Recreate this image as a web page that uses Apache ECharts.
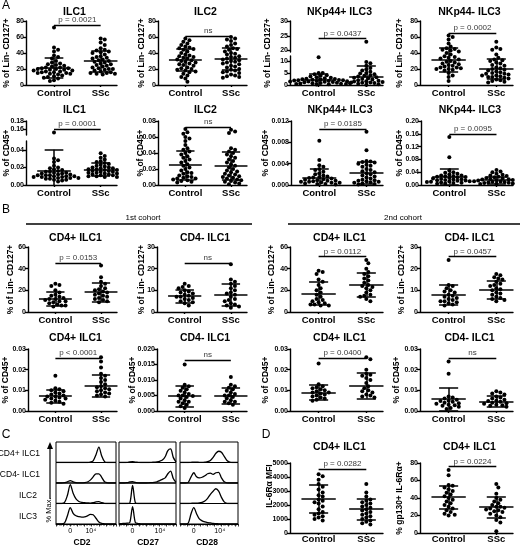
<!DOCTYPE html>
<html><head><meta charset="utf-8">
<script src="https://cdn.jsdelivr.net/npm/echarts@6/dist/echarts.min.js"></script>
<style>html,body{margin:0;padding:0;background:#fff}#c{width:520px;height:546px}</style>
</head><body><div id="c"></div>
<script>
// ---------------- DATA ----------------
const groups = ['Control', 'SSc'];
// Panel A, % of Lin- CD127+
const A_ILC1_lin_control = [72,47,44,42,37,35,33,30,28,27,26,25,24,23,22,22,21,21,20,20,19,19,18,18,17,17,16,16,15,15,14,14,13,12,11,10,9,8,6,5];
const A_ILC1_lin_ssc = [58,57,53,50,46,44,43,42,41,40,38,36,35,34,33,32,31,30,29,28,27,26,25,24,23,22,21,20,20,19,18,17,16,15,15,14,14,13];
const A_ILC1_lin_stats = [21,12.5,30,13];
const A_ILC2_lin_control = [58,56,54,52,50,48,47,46,45,44,42,40,38,37,36,35,34,33,32,31,30,29,28,27,26,25,24,22,21,20,19,18,17,16,14,12,10,8,4];
const A_ILC2_lin_ssc = [60,58,57,55,52,50,48,46,45,44,42,40,39,38,36,35,34,33,32,31,30,29,28,27,26,24,23,22,20,19,18,17,16,15,13,12,11,10,9];
const A_ILC2_lin_stats = [31.5,14,32.5,14];
const A_NKp44pos_lin_control = [11.5,5,5,4.5,4,3.8,3.5,3.2,3,2.8,2.6,2.5,2.4,2.3,2.2,2.1,2,2,1.9,1.8,1.7,1.6,1.5,1.4,1.3,1.2,1.1,1,0.9,0.8,0.7,0.6,0.5,0.4,0.3,0.2];
const A_NKp44pos_lin_ssc = [23,9.5,9,8,7,6.5,6,5.5,5,4.8,4.5,4,3.8,3.5,3.2,3,2.8,2.5,2.3,2,1.8,1.6,1.4,1.2,1,0.9,0.8,0.7,0.6,0.5,0.4,0.3,0.2,0.1];
const A_NKp44pos_lin_stats = [2.2,2.3,3.5,4.5];
const A_NKp44neg_lin_control = [62,60,57,52,48,46,45,44,43,42,40,38,36,35,34,33,32,30,29,28,27,26,25,24,23,22,22,21,20,20,19,18,15,12,10,5];
const A_NKp44neg_lin_ssc = [54,47,45,44,38,34,32,31,30,28,27,25,24,22,21,20,19,18,17,16,15,14,14,13,12,12,11,10,10,9,8,7,6,5,4,3];
const A_NKp44neg_lin_stats = [31.5,14.5,20,12.5];
// Panel A, % of CD45+
const A_ILC1_cd45_control = [0.151,0.03,0.028,0.026,0.022,0.02,0.019,0.018,0.017,0.016,0.015,0.015,0.014,0.014,0.013,0.013,0.012,0.012,0.011,0.011,0.011,0.01,0.01,0.01,0.009,0.009,0.009,0.008,0.008,0.008,0.007,0.007,0.006,0.006,0.005,0.004];
const A_ILC1_cd45_ssc = [0.036,0.033,0.031,0.029,0.027,0.026,0.025,0.024,0.023,0.022,0.021,0.02,0.02,0.019,0.019,0.018,0.018,0.017,0.017,0.016,0.016,0.015,0.015,0.014,0.014,0.013,0.013,0.012,0.012,0.011,0.011,0.01,0.01,0.009,0.009];
const A_ILC1_cd45_stats = [0.016,0.024,0.0175,0.0075];
const A_ILC2_cd45_control = [0.07,0.066,0.064,0.06,0.058,0.055,0.05,0.046,0.044,0.042,0.04,0.038,0.036,0.034,0.032,0.03,0.028,0.026,0.024,0.022,0.02,0.018,0.016,0.015,0.014,0.012,0.011,0.01,0.009,0.008,0.008,0.007,0.006,0.005,0.004,0.003];
const A_ILC2_cd45_ssc = [0.069,0.067,0.065,0.046,0.044,0.042,0.04,0.038,0.036,0.034,0.032,0.03,0.028,0.026,0.024,0.022,0.02,0.018,0.017,0.016,0.014,0.013,0.012,0.011,0.01,0.009,0.008,0.007,0.006,0.005,0.004,0.003,0.002,0.001];
const A_ILC2_cd45_stats = [0.025,0.018,0.024,0.018];
const A_NKp44pos_cd45_control = [0.0083,0.0047,0.0037,0.0034,0.003,0.0028,0.0025,0.0022,0.002,0.0018,0.0016,0.0015,0.0014,0.0013,0.0012,0.0011,0.001,0.0009,0.0008,0.0008,0.0007,0.0006,0.0006,0.0005,0.0004,0.0004,0.0003,0.0002,0.0002,0.0001];
const A_NKp44pos_cd45_ssc = [0.01,0.0065,0.0045,0.0044,0.0043,0.0042,0.004,0.0038,0.0036,0.0034,0.003,0.0028,0.0026,0.0024,0.0022,0.002,0.0018,0.0016,0.0014,0.0012,0.001,0.0009,0.0008,0.0007,0.0006,0.0005,0.0004,0.0003,0.0002,0.0001];
const A_NKp44pos_cd45_stats = [0.0013,0.0017,0.0023,0.002];
const A_NKp44neg_cd45_control = [0.15,0.087,0.045,0.04,0.038,0.035,0.033,0.03,0.03,0.028,0.027,0.026,0.025,0.024,0.022,0.02,0.019,0.018,0.017,0.016,0.015,0.014,0.013,0.012,0.011,0.01,0.009,0.008,0.007,0.006,0.005,0.004];
const A_NKp44neg_cd45_ssc = [0.047,0.042,0.04,0.035,0.032,0.03,0.028,0.026,0.024,0.022,0.02,0.019,0.018,0.017,0.016,0.015,0.014,0.013,0.012,0.011,0.01,0.009,0.008,0.007,0.006,0.005,0.004,0.003,0.002];
const A_NKp44neg_cd45_stats = [0.027,0.025,0.016,0.011];
// Panel B, 1st cohort
const B1_CD4pos_lin_control = [26,25,24,20,18,16,15,14,13,12,12,11,10,10,9,8,7,6,6,5];
const B1_CD4pos_lin_ssc = [43,32,28,26,24,22,21,20,19,18,17,16,15,14,13,12,11,10,9];
const B1_CD4pos_lin_stats = [12,6.5,18.5,8.7];
const B1_CD4neg_lin_control = [13,12,11.5,11,10,9.5,9,8.5,8,7.5,7,7,6.5,6,5.5,5,4.5,4,3];
const B1_CD4neg_lin_ssc = [22,15,14,13,12,11,10,9,8.5,8,7,6,5.5,5,4,3.5,3,2.5,2];
const B1_CD4neg_lin_stats = [7.3,2.8,8,5];
const B1_CD4pos_cd45_control = [0.017,0.011,0.0105,0.01,0.0095,0.009,0.0085,0.008,0.0075,0.007,0.007,0.0065,0.006,0.006,0.0055,0.005,0.0045,0.004,0.0035];
const B1_CD4pos_cd45_ssc = [0.026,0.024,0.021,0.018,0.017,0.016,0.015,0.014,0.013,0.012,0.0115,0.011,0.0105,0.01,0.0095,0.009,0.0085,0.008,0.0075,0.007];
const B1_CD4pos_cd45_stats = [0.0072,0.0032,0.0122,0.0052];
const B1_CD4neg_cd45_control = [0.015,0.0085,0.008,0.0075,0.007,0.0065,0.006,0.0055,0.005,0.005,0.0048,0.0045,0.004,0.0035,0.003,0.003,0.0025,0.002,0.0015,0.001];
const B1_CD4neg_cd45_ssc = [0.011,0.0085,0.008,0.0075,0.007,0.0065,0.006,0.0055,0.005,0.005,0.0045,0.004,0.0035,0.003,0.003,0.0025,0.002];
const B1_CD4neg_cd45_stats = [0.0048,0.0033,0.005,0.0025];
// Panel B, 2nd cohort
const B2_CD4pos_lin_control = [38,37,35,30,28,25,22,20,18,16,14,12,11,10,9,8,7,7,6,6];
const B2_CD4pos_lin_ssc = [48,45,40,37,35,33,31,29,27,25,24,23,22,20,18,16,15,14,12,10];
const B2_CD4pos_lin_stats = [17,10.5,25,10.8];
const B2_CD4neg_lin_control = [24,12.5,12,11,10,9.5,9,8,7.5,7,6.5,6,5.5,5,5,4.5,4,3.5,3];
const B2_CD4neg_lin_ssc = [17.5,17,16,15.5,15,14,13,12.5,12,11,10.5,10,9,8.5,8,7,6.5,6,5.5,5];
const B2_CD4neg_lin_stats = [8,4.5,10.3,4.2];
const B2_CD4pos_cd45_control = [0.023,0.013,0.012,0.0115,0.011,0.0105,0.01,0.0095,0.009,0.009,0.0085,0.008,0.0075,0.007,0.0065,0.006,0.0055,0.005];
const B2_CD4pos_cd45_ssc = [0.026,0.025,0.02,0.018,0.0175,0.017,0.016,0.015,0.0135,0.012,0.011,0.01,0.0095,0.009,0.008,0.0075,0.007,0.0065];
const B2_CD4pos_cd45_stats = [0.009,0.0037,0.0122,0.0062];
const B2_CD4neg_cd45_control = [0.024,0.018,0.007,0.0065,0.006,0.0055,0.005,0.0048,0.0045,0.004,0.0038,0.0035,0.003,0.0028,0.0025,0.002,0.0015,0.001];
const B2_CD4neg_cd45_ssc = [0.0095,0.009,0.0085,0.008,0.007,0.0065,0.006,0.0055,0.005,0.0048,0.0045,0.004,0.0038,0.0035,0.003,0.0028,0.0025,0.002];
const B2_CD4neg_cd45_stats = [0.0058,0.0055,0.0047,0.0025];
// Panel D
const D_MFI_control = [4200,4050,3800,3500,3300,3100,2900,2700,2600,2400,2300,2200,2100,1900,1700,1500,1400,1300,1200,1100,1000,900];
const D_MFI_ssc = [3500,2900,2600,2400,2300,2200,2100,2000,1900,1800,1700,1600,1500,1400,1300,1200,1100,1000,900,800,700,600];
const D_MFI_stats = [2420,1000,1700,740];
const D_gp130_control = [72,66,55,54,52,50,48,46,44,42,40,38,36,34,32,30,28,26,24,22,21,20];
const D_gp130_ssc = [56,52,45,40,38,36,34,32,30,30,29,28,27,26,25,24,22,20,18,15,12,2];
const D_gp130_stats = [41,13.5,30,12];
// tick label values
const ticks80 = [0,20,40,60,80], ticks60 = [0,20,40,60], ticks30 = [0,10,20,30];
const ticksNKlo = [0,5,10], ticksNKhi = [20,25,30];
const ticksCD45lo = [0,0.02,0.04], ticksCD45hi = [0.16,0.18];
const ticks008 = [0,0.02,0.04,0.06,0.08], ticks0012 = [0,0.004,0.008,0.012], ticks020 = [0,0.04,0.08,0.12,0.16,0.20];
const ticks003 = [0,0.01,0.02,0.03], ticks0020 = [0,0.005,0.010,0.015,0.020];
const ticksMFI = [0,1000,2000,3000,4000,5000];
// Panel C histograms (% Max.) at histX
const histX = [-1,-0.8,-0.6,-0.4,-0.2,0,0.2,0.4,0.6,0.8,1,1.2,1.4,1.6,1.8,2,2.2,2.4,2.6,2.8,3,3.2];
const hist_CD2 = [
  [0,0,0,0,0,0,0,0,0,0,0,0,2,8,38,75,32,4,0,0,0,0],
  [0,0,0,2,6,12,6,2,1,1,2,5,14,30,45,45,28,6,1,0,0,0],
  [0,0,0,5,40,92,50,22,10,5,4,3,2,4,8,9,4,1,0,0,0,0],
  [0,0,0,5,40,80,52,40,36,34,35,40,47,45,28,10,3,1,0,0,0,0]];
const hist_CD27 = [
  [0,0,0,1,3,4,2,1,0,0,0,0,1,2,3,6,12,28,58,66,25,3],
  [0,0,0,2,5,7,3,1,0,0,0,1,2,3,6,12,18,25,45,58,22,3],
  [0,0,0,0,3,88,5,0,0,0,0,0,0,0,0,0,0,0,0,0,0,0],
  [1,2,3,4,8,85,8,2,1,0,0,0,0,0,0,0,0,0,0,0,0,0]];
const hist_CD28 = [
  [0,0,0,0,1,2,2,1,1,2,4,10,25,45,55,50,30,10,2,0,0,0],
  [0,0,0,3,30,50,30,25,28,35,45,48,42,50,52,25,6,1,0,0,0,0],
  [0,0,0,0,1,2,2,3,6,12,25,45,60,72,60,30,8,1,0,0,0,0],
  [0,0,0,5,50,80,50,25,15,10,7,5,3,2,1,0,0,0,0,0,0,0]];
const histRows = ['CD4+ ILC1','CD4- ILC1','ILC2','ILC3'];
const histMarkers = ['CD2','CD27','CD28'];
const histTenFour = [1.44, 2.02, 1.88];

// ---------------- BUILD ----------------
const FONT = 'Liberation Sans';
const XMIN = -0.6, XMAX = 1.35;
const grids = [], xAxes = [], yAxes = [], series = [], graphics = [];

function txt(text, x, y, size, weight, align, rot) {
  graphics.push({type:'text', x:x, y:y, rotation: rot || 0, silent:true, z:10,
    style:{text:text, x:0, y:0, fill:'#000', fontSize:size, fontWeight:weight||'normal', fontFamily:FONT,
      textAlign:align||'center', textVerticalAlign:'middle', align:align||'center', verticalAlign:'middle'}});
}
function hline(x1, y1, x2, y2, w) {
  graphics.push({type:'line', silent:true, shape:{x1:x1,y1:y1,x2:x2,y2:y2}, style:{stroke:'#000', lineWidth:w||1.3}});
}
const axisLineStyle = {color:'#000', width:1.4};
function addGrid(g, yr, ticks, dec, showX, xMargin) {
  const i = grids.length;
  grids.push({left:g[0], top:g[1], width:g[2], height:g[3], containLabel:false, outerBoundsMode:'none'});
  xAxes.push({gridIndex:i, type:'value', min:XMIN, max:XMAX, show:showX, splitLine:{show:false},
    axisLine:{show:true, onZero:false, lineStyle:axisLineStyle},
    axisTick:{show:true, customValues:[0,1], length:2, lineStyle:axisLineStyle},
    axisLabel:{customValues:[0,1], formatter:v => (v < 0.5 ? groups[0] : groups[1]), margin:(xMargin == null ? 3 : xMargin),
      color:'#000', fontSize:9.5, fontWeight:'bold', fontFamily:FONT}});
  yAxes.push({gridIndex:i, type:'value', min:yr[0], max:yr[1], splitLine:{show:false},
    axisLine:{show:true, onZero:false, lineStyle:axisLineStyle},
    axisTick:{show:true, customValues:ticks, length:3, lineStyle:axisLineStyle},
    axisLabel:{customValues:ticks, formatter:v => Number(v).toFixed(dec), margin:2, color:'#000',
      fontSize:7, fontWeight:'bold', fontFamily:FONT}});
  return i;
}
function swarm(vals, center, pxX, pxY, yMin) {
  const d = 3.7, step = d * 0.55, placed = [], out = [];
  const order = vals.map((v, i) => i).sort((a, b) => vals[b] - vals[a]);
  for (const i of order) {
    const py = (vals[i] - yMin) * pxY;
    let off = 0;
    for (let n = 0; n < 80; n++) {
      const kk = n === 0 ? 0 : (n % 2 ? Math.ceil(n / 2) : -n / 2);
      off = kk * step;
      if (!placed.some(p => Math.hypot(p[0] - off, p[1] - py) < d * 0.95)) break;
    }
    placed.push([off, py]);
    out.push([center + off / pxX, vals[i]]);
  }
  return out;
}
function dots(gi, data) {
  return {type:'scatter', xAxisIndex:gi, yAxisIndex:gi, symbolSize:4, silent:true,
    itemStyle:{color:'#000', opacity:1}, data:data};
}
function segLines(gi, segs, w) {
  return {type:'lines', coordinateSystem:'cartesian2d', xAxisIndex:gi, yAxisIndex:gi, polyline:false, silent:true,
    z:4, lineStyle:{color:'#000', width:w, opacity:1, curveness:0}, data:segs.map(c => ({coords:c}))};
}
function buildPlot(P) {
  const lo = addGrid(P.g, P.y, P.t, P.dec, true, P.xm);
  let hi = null;
  if (P.up) hi = addGrid(P.up.g, P.up.y, P.up.t, P.dec, false);
  const pxX = P.g[2] / (XMAX - XMIN);
  [P.c, P.s].forEach((vals, gi) => {
    const loVals = P.up ? vals.filter(v => v <= P.y[1]) : vals;
    const hiVals = P.up ? vals.filter(v => v > P.y[1]) : [];
    series.push(dots(lo, swarm(loVals, gi, pxX, P.g[3] / (P.y[1] - P.y[0]), P.y[0])));
    if (hiVals.length) series.push(dots(hi, swarm(hiVals, gi, pxX, P.up.g[3] / (P.up.y[1] - P.up.y[0]), P.up.y[0])));
  });
  const segs = [];
  [0, 1].forEach(gi => {
    const m = P.st[gi * 2], s = P.st[gi * 2 + 1];
    const lw = Math.max(P.y[0], m - s);
    segs.push([[gi - 0.36, m], [gi + 0.36, m]], [[gi, lw], [gi, m + s]], [[gi - 0.2, m + s], [gi + 0.2, m + s]]);
    if (m - s > P.y[0]) segs.push([[gi - 0.2, m - s], [gi + 0.2, m - s]]);
  });
  series.push(segLines(lo, segs, 1.5));
  const bi = P.up ? hi : lo;
  series.push(segLines(bi, [[[0, P.by], [1, P.by]]], 1.4));
  series.push({type:'scatter', xAxisIndex:bi, yAxisIndex:bi, symbolSize:0, silent:true, data:[[0.5, P.by]],
    label:{show:true, position:'top', distance:1, formatter:P.p, fontSize:8, color:'#000', fontFamily:FONT}});
  txt(P.title, P.g[0] + P.g[2] / 2 + 3, P.ty, 10.5, 'bold');
  const topY = P.up ? P.up.g[1] : P.g[1];
  txt(P.yt, P.ytx, P.yty || (topY + P.g[1] + P.g[3]) / 2, 8.5, 'bold', 'center', Math.PI / 2);
}

const LIN = '% of Lin- CD127+', CD45 = '% of CD45+';
const plots = [
  {c:A_ILC1_lin_control, s:A_ILC1_lin_ssc, st:A_ILC1_lin_stats, p:'p = 0.0021', title:'ILC1', ty:12, g:[26,21,91,64], y:[0,80], t:ticks80, dec:0, by:75, yt:LIN, ytx:7},
  {c:A_ILC2_lin_control, s:A_ILC2_lin_ssc, st:A_ILC2_lin_stats, p:'ns', title:'ILC2', ty:12, g:[158,21,89,64], y:[0,80], t:ticks80, dec:0, by:61.5, yt:LIN, ytx:142},
  {c:A_NKp44pos_lin_control, s:A_NKp44pos_lin_ssc, st:A_NKp44pos_lin_stats, p:'p = 0.0437', title:'NKp44+ ILC3', ty:12, g:[290,56,93,29], y:[0,12], t:ticksNKlo, dec:0,
    up:{g:[290,21,93,31], y:[19.5,30], t:ticksNKhi}, by:24, yt:LIN, ytx:268},
  {c:A_NKp44neg_lin_control, s:A_NKp44neg_lin_ssc, st:A_NKp44neg_lin_stats, p:'p = 0.0002', title:'NKp44- ILC3', ty:12, g:[420,21,93,64], y:[0,80], t:ticks80, dec:0, by:65, yt:LIN, ytx:400},
  {c:A_ILC1_cd45_control, s:A_ILC1_cd45_ssc, st:A_ILC1_cd45_stats, p:'p = 0.0001', title:'ILC1', ty:110, g:[26,141,91,44], y:[0,0.05], t:ticksCD45lo, dec:2,
    up:{g:[26,121,91,14], y:[0.145,0.18], t:ticksCD45hi}, by:0.16, yt:CD45, ytx:7},
  {c:A_ILC2_cd45_control, s:A_ILC2_cd45_ssc, st:A_ILC2_cd45_stats, p:'ns', title:'ILC2', ty:110, g:[158,121,89,64], y:[0,0.08], t:ticks008, dec:2, by:0.0726, yt:CD45, ytx:141},
  {c:A_NKp44pos_cd45_control, s:A_NKp44pos_cd45_ssc, st:A_NKp44pos_cd45_stats, p:'p = 0.0185', title:'NKp44+ ILC3', ty:110, g:[291,121,92,64], y:[0,0.012], t:ticks0012, dec:3, by:0.0105, yt:CD45, ytx:266},
  {c:A_NKp44neg_cd45_control, s:A_NKp44neg_cd45_ssc, st:A_NKp44neg_cd45_stats, p:'p = 0.0095', title:'NKp44- ILC3', ty:110, g:[421,121,92,64], y:[0,0.2], t:ticks020, dec:2, by:0.16, yt:CD45, ytx:400},
  {c:B1_CD4pos_lin_control, s:B1_CD4pos_lin_ssc, st:B1_CD4pos_lin_stats, p:'p = 0.0153', title:'CD4+ ILC1', ty:238, g:[28,247,89,65], y:[0,60], t:ticks60, dec:0, by:45, yt:LIN, ytx:11},
  {c:B1_CD4neg_lin_control, s:B1_CD4neg_lin_ssc, st:B1_CD4neg_lin_stats, p:'ns', title:'CD4- ILC1', ty:238, g:[157,247,90,65], y:[0,30], t:ticks30, dec:0, by:22.6, yt:LIN, ytx:142},
  {c:B2_CD4pos_lin_control, s:B2_CD4pos_lin_ssc, st:B2_CD4pos_lin_stats, p:'p = 0.0112', title:'CD4+ ILC1', ty:238, g:[290,247,93,65], y:[0,60], t:ticks60, dec:0, by:51.4, yt:LIN, ytx:272},
  {c:B2_CD4neg_lin_control, s:B2_CD4neg_lin_ssc, st:B2_CD4neg_lin_stats, p:'p = 0.0457', title:'CD4- ILC1', ty:238, g:[420,247,93,65], y:[0,30], t:ticks30, dec:0, by:25.7, yt:LIN, ytx:402},
  {c:B1_CD4pos_cd45_control, s:B1_CD4pos_cd45_ssc, st:B1_CD4pos_cd45_stats, p:'p < 0.0001', title:'CD4+ ILC1', ty:338, g:[28,349,89,62], y:[0,0.03], t:ticks003, dec:2, by:0.0257, yt:CD45, ytx:6},
  {c:B1_CD4neg_cd45_control, s:B1_CD4neg_cd45_ssc, st:B1_CD4neg_cd45_stats, p:'ns', title:'CD4- ILC1', ty:338, g:[157,349,90,62], y:[0,0.02], t:ticks0020, dec:3, by:0.0165, yt:CD45, ytx:133},
  {c:B2_CD4pos_cd45_control, s:B2_CD4pos_cd45_ssc, st:B2_CD4pos_cd45_stats, p:'p = 0.0400', title:'CD4+ ILC1', ty:338, g:[290,349,93,62], y:[0,0.03], t:ticks003, dec:2, by:0.0257, yt:CD45, ytx:266},
  {c:B2_CD4neg_cd45_control, s:B2_CD4neg_cd45_ssc, st:B2_CD4neg_cd45_stats, p:'ns', title:'CD4- ILC1', ty:338, g:[420,349,93,62], y:[0,0.03], t:ticks003, dec:2, by:0.0257, yt:CD45, ytx:397},
  {c:D_MFI_control, s:D_MFI_ssc, st:D_MFI_stats, p:'p = 0.0282', title:'CD4+ ILC1', ty:447, g:[290,463,93,70], xm:1.5, y:[0,5000], t:ticksMFI, dec:0, by:4580, yt:'IL-6R\u03b1 MFI', ytx:270, yty:486},
  {c:D_gp130_control, s:D_gp130_ssc, st:D_gp130_stats, p:'p = 0.0224', title:'CD4+ ILC1', ty:447, g:[420,463,93,70], xm:1.5, y:[0,80], t:ticks80, dec:0, by:76, yt:'% gp130+ IL-6R\u03b1+', ytx:400}
];
plots.forEach(buildPlot);

// Panel C
const cCols = [[56,60],[119,57],[180,58]];
const cTop = 442, cH = 20.5;
[hist_CD2, hist_CD27, hist_CD28].forEach((hist, ci) => {
  hist.forEach((vals, ri) => {
    const i = grids.length;
    const bottom = ri === 3;
    grids.push({left:cCols[ci][0], top:cTop + ri * cH, width:cCols[ci][1], height:cH, show:true,
      borderColor:'#000', borderWidth:1, backgroundColor:'transparent', containLabel:false, outerBoundsMode:'none'});
    xAxes.push({gridIndex:i, type:'value', min:-1, max:3.2, interval:0.5, show:bottom, splitLine:{show:false},
      axisLine:{show:true, onZero:false, lineStyle:{color:'#000', width:1}},
      axisTick:{show:true, length:2.5, lineStyle:{color:'#000', width:0.8}},
      minorTick:{show:true, splitNumber:5, length:1.5, lineStyle:{color:'#000', width:0.6}},
      axisLabel:{customValues:[0, histTenFour[ci]], formatter:v => (Math.abs(v) < 1e-9 ? '0' : '10\u2074'),
        margin:4, fontSize:7, color:'#000', fontFamily:FONT}});
    yAxes.push({gridIndex:i, type:'value', min:0, max:100, show:false, splitLine:{show:false}});
    series.push({type:'line', xAxisIndex:i, yAxisIndex:i, showSymbol:false, smooth:0.3, silent:true,
      lineStyle:{color:'#000', width:1.3}, data:histX.map((x, k) => [x, vals[k]])});
  });
  txt(histMarkers[ci], [82,148,207][ci], 543, 8.5, 'bold');
});
txt(histRows[0], 40, 454, 8.5, 'normal', 'right');
txt(histRows[1], 40, 475, 8.5, 'normal', 'right');
txt(histRows[2], 28, 496, 8.5, 'normal', 'center');
txt(histRows[3], 28, 517, 8.5, 'normal', 'center');
hline(50, 499, 50, 447, 1.2);
graphics.push({type:'polygon', silent:true, shape:{points:[[47,449],[53,449],[50,442]]}, style:{fill:'#000'}});
txt('% Max.', 49, 510, 7.5, 'normal', 'center', Math.PI / 2);

// Panel letters & cohorts
txt('A', 6, 6, 12, 'normal');
txt('B', 6, 210, 12, 'normal');
txt('C', 6, 435, 12, 'normal');
txt('D', 266, 435, 12, 'normal');
txt('1st cohort', 143, 218, 8, 'normal');
hline(26, 224, 252, 224, 1.5);
txt('2nd cohort', 403, 218, 8, 'normal');
hline(288, 224, 520, 224, 1.5);

const chart = echarts.init(document.getElementById('c'), null, {renderer:'canvas'});
chart.setOption({
  animation:false, backgroundColor:'#fff',
  grid:grids, xAxis:xAxes, yAxis:yAxes, series:series,
  graphic:{elements:graphics}
});
</script></body></html>
